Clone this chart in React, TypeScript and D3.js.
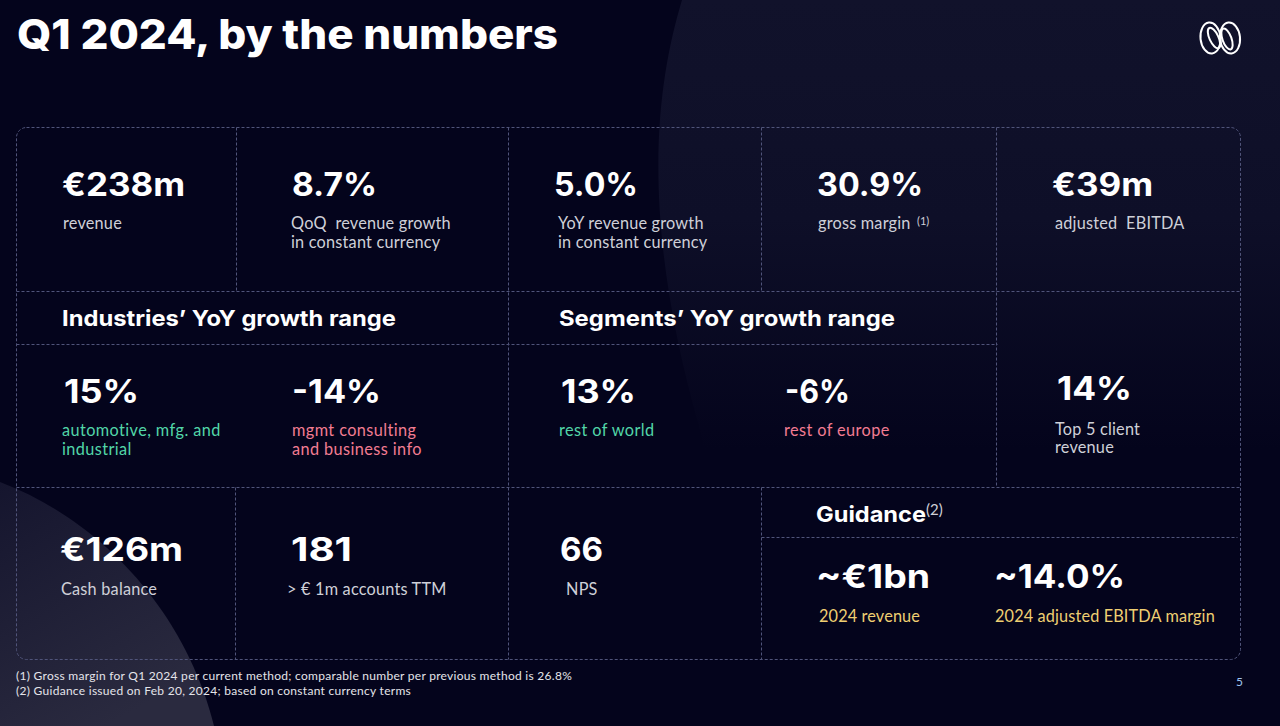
import * as d3 from "d3";
import React from "react";

const title = "Q1 2024, by the numbers";

// top row
const kpiValues = ["€238m", "8.7%", "5.0%", "30.9%", "€39m"];
const kpiLabels = [
  ["revenue"],
  ["QoQ  revenue growth", "in constant currency"],
  ["YoY revenue growth", "in constant currency"],
  ["gross margin"],
  ["adjusted  EBITDA"],
];

// middle row
const rangeHeadings = ["Industries’ YoY growth range", "Segments’ YoY growth range"];
const rangeValues = ["15%", "-14%", "13%", "-6%"];
const rangeLabels = [
  ["automotive, mfg. and", "industrial"],
  ["mgmt consulting", "and business info"],
  ["rest of world"],
  ["rest of europe"],
];
const topClientValue = "14%";
const topClientLabel = ["Top 5 client", "revenue"];

// bottom row
const bottomValues = ["€126m", "181", "66"];
const bottomLabels = ["Cash balance", "> € 1m accounts TTM", "NPS"];
const guidanceHeading = "Guidance";
const guidanceValues = ["~€1bn", "~14.0%"];
const guidanceLabels = ["2024 revenue", "2024 adjusted EBITDA margin"];

const footnotes = [
  "(1) Gross margin for Q1 2024 per current method; comparable number per previous method is 26.8%",
  "(2) Guidance issued on Feb 20, 2024; based on constant currency terms",
];
const pageNumber = "5";

const W = 1280;
const H = 726;
const BG = "#04041c";
const LINE = "#50547a";
const GREEN = "#52d6a8";
const RED = "#f27c92";
const YELLOW = "#efcf72";
const GREY = "#cfd0d8";
const HEAD = "Inter, sans-serif";
const BODY = "Lato, sans-serif";

const kpiX = d3.scaleOrdinal<string, number>(kpiValues, [62, 292, 554, 817, 1052]);
const kpiLabelX = d3.scaleOrdinal<string, number>(kpiValues, [63, 291, 558, 818, 1055]);
const rangeX = d3.scaleOrdinal<string, number>(rangeValues, [64, 292, 561, 785]);
const rangeLabelX = d3.scaleOrdinal<string, number>(rangeValues, [62, 292, 559, 784]);
const bottomX = d3.scaleOrdinal<string, number>(bottomValues, [60, 291, 560]);
const bottomLabelX = d3.scaleOrdinal<string, number>(bottomValues, [61, 287, 566]);
const guidanceX = d3.scaleOrdinal<string, number>(guidanceValues, [816, 994]);
const guidanceLabelX = d3.scaleOrdinal<string, number>(guidanceValues, [819, 995]);

// drawn width of each big number, the slide's font is wider than Inter
const bigWidth = d3.scaleOrdinal<string, number>(
  [...kpiValues, ...rangeValues, topClientValue, ...bottomValues, ...guidanceValues],
  [123, 85, 84, 106, 101, 75, 89, 75, 65, 75, 123, 61, 43, 114, 131],
);

// dashed grid as [x1, y1, x2, y2]
const gridLines = [
  [16, 291, 1240, 291],
  [16, 344, 997, 344],
  [16, 487, 1240, 487],
  [761, 537, 1237, 537],
  [236, 127, 236, 291],
  [508, 127, 508, 659],
  [761, 127, 761, 291],
  [996, 127, 996, 487],
  [235, 487, 235, 659],
  [761, 487, 761, 659],
];

function Txt({x, y, size, weight = 400, fill = GREY, family = BODY, width, spacing, children}: any) {
  return (
    <text
      x={x}
      y={y}
      fontSize={size}
      fontWeight={weight}
      fill={fill}
      fontFamily={family}
      letterSpacing={spacing}
      xmlSpace="preserve"
      textLength={width}
      lengthAdjust={width ? "spacingAndGlyphs" : undefined}
    >
      {children}
    </text>
  );
}

function Big({x, y, children}: any) {
  return (
    <Txt x={x} y={y} size={32} weight={700} fill="#ffffff" family={HEAD} width={bigWidth(children)}>
      {children}
    </Txt>
  );
}

function Lines({x, y, lines, fill = GREY, size = 16.3, step = 19, spacing = 0.2}: any) {
  return (
    <text y={y} fontSize={size} fill={fill} fontFamily={BODY} letterSpacing={spacing} xmlSpace="preserve">
      {lines.map((l: string, i: number) => (
        <tspan key={l} x={x} dy={i ? step : 0}>
          {l}
        </tspan>
      ))}
    </text>
  );
}

export default function App() {
  const blob = d3.path();
  blob.moveTo(682, 0);
  blob.bezierCurveTo(655, 90, 640, 220, 700, 430);
  blob.lineTo(760, 726);
  blob.lineTo(W, H);
  blob.lineTo(W, 0);
  blob.closePath();
  const corner = d3.path();
  corner.moveTo(0, 482);
  corner.bezierCurveTo(100, 520, 185, 610, 214, H);
  corner.lineTo(0, H);
  corner.closePath();

  return (
    <svg width={W} height={H} viewBox={`0 0 ${W} ${H}`} style={{position: "absolute", left: 0, top: 0}}>
      <defs>
        <linearGradient id="blobFill" x1="0" y1="0" x2="0" y2="1">
          <stop offset="0" stopColor="#11122b" />
          <stop offset="0.3" stopColor="#0e0f28" />
          <stop offset="0.62" stopColor={BG} />
        </linearGradient>
        <linearGradient id="cornerFill" x1="0" y1="0" x2="0.5" y2="1">
          <stop offset="0" stopColor="#15152e" />
          <stop offset="1" stopColor="#2a2a3f" />
        </linearGradient>
      </defs>
      <rect width={W} height={H} fill={BG} />
      <path d={blob.toString()} fill="url(#blobFill)" />
      <path d={corner.toString()} fill="url(#cornerFill)" />
      <rect x={16.5} y={127.5} width={1224} height={532} rx={10} fill="none" stroke={LINE} strokeDasharray="3 2" />
      {gridLines.map(([x1, y1, x2, y2], i) => (
        <line key={i} x1={x1 + 0.5} y1={y1 + 0.5} x2={x2 + 0.5} y2={y2 + 0.5} stroke={LINE} strokeDasharray="3 2" />
      ))}

      <Txt x={17} y={49} size={41} weight={800} fill="#ffffff" family={HEAD} width={541}>{title}</Txt>
      <g fill="none" stroke="#ffffff" strokeWidth={2}>
        <ellipse cx={1210.5} cy={38} rx={10} ry={15.5} transform="rotate(-6 1210.5 38)" />
        <ellipse cx={1230} cy={38} rx={10} ry={15.5} transform="rotate(-6 1230 38)" />
        <ellipse cx={1214} cy={38} rx={4.5} ry={11} transform="rotate(-25 1214 38)" />
        <ellipse cx={1227} cy={39} rx={4.5} ry={11} transform="rotate(-20 1227 39)" />
      </g>

      {kpiValues.map((v, i) => (
        <g key={v}>
          <Big x={kpiX(v)} y={196}>{v}</Big>
          <Lines x={kpiLabelX(v)} y={229} lines={kpiLabels[i]} />
        </g>
      ))}
      <Txt x={917} y={225} size={11}>(1)</Txt>

      <Txt x={62} y={326} size={22} weight={700} fill="#ffffff" family={HEAD} width={334}>{rangeHeadings[0]}</Txt>
      <Txt x={559} y={326} size={22} weight={700} fill="#ffffff" family={HEAD} width={336}>{rangeHeadings[1]}</Txt>
      {rangeValues.map((v, i) => (
        <g key={v}>
          <Big x={rangeX(v)} y={403}>{v}</Big>
          <Lines x={rangeLabelX(v)} y={436} lines={rangeLabels[i]} fill={i % 2 ? RED : GREEN} spacing={0.4} />
        </g>
      ))}
      <Big x={1057} y={400}>{topClientValue}</Big>
      <Lines x={1055} y={435} lines={topClientLabel} step={18} />

      {bottomValues.map((v, i) => (
        <g key={v}>
          <Big x={bottomX(v)} y={561}>{v}</Big>
          <Txt x={bottomLabelX(v)} y={595} size={16.3} spacing={0.2}>{bottomLabels[i]}</Txt>
        </g>
      ))}
      <Txt x={816} y={522} size={22} weight={700} fill="#ffffff" family={HEAD} width={110}>{guidanceHeading}</Txt>
      <Txt x={926} y={515} size={15}>(2)</Txt>
      {guidanceValues.map((v, i) => (
        <g key={v}>
          <Big x={guidanceX(v)} y={588}>{v}</Big>
          <Txt x={guidanceLabelX(v)} y={622} size={16.3} fill={YELLOW} spacing={0.13}>{guidanceLabels[i]}</Txt>
        </g>
      ))}

      <Lines x={16} y={680} lines={footnotes} size={12} step={14.5} fill="#e4e4ea" spacing={0.28} />
      <Txt x={1236} y={686} size={12} fill="#9fc4f0">{pageNumber}</Txt>
    </svg>
  );
}
